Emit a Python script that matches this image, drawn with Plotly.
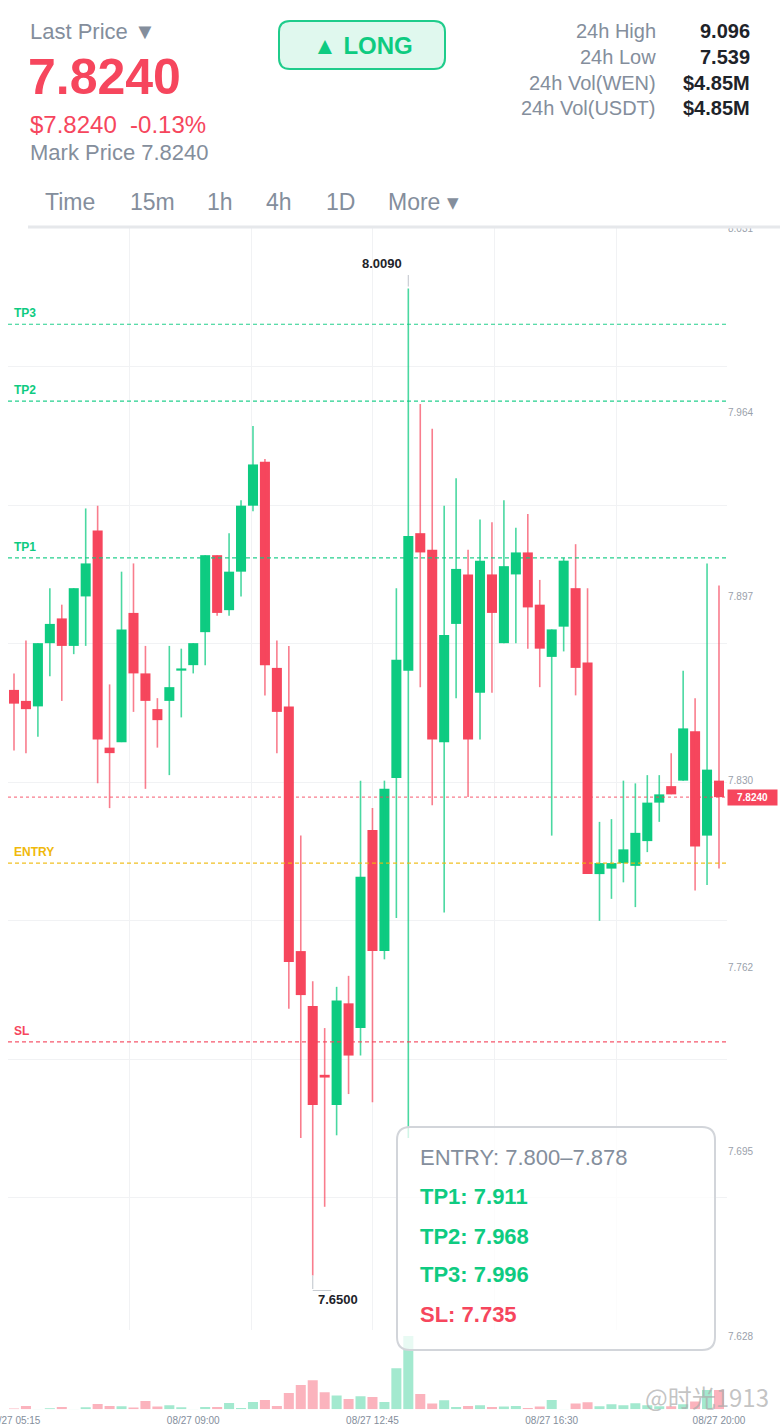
import plotly.graph_objects as go

W, H = 780, 1428

# ---------------- data ----------------
open_ = [7.863, 7.859, 7.857, 7.880, 7.889, 7.879, 7.897, 7.921, 7.842, 7.844,
         7.891, 7.869, 7.856, 7.859, 7.870, 7.872, 7.884, 7.912, 7.892, 7.906,
         7.930, 7.946, 7.871, 7.857, 7.768, 7.748, 7.723, 7.712, 7.749, 7.740,
         7.812, 7.768, 7.831, 7.870, 7.920, 7.914, 7.844, 7.887, 7.905, 7.862,
         7.905, 7.880, 7.905, 7.913, 7.894, 7.875, 7.886, 7.900, 7.873, 7.796,
         7.798, 7.800, 7.799, 7.808, 7.822, 7.828, 7.830, 7.848, 7.810, 7.830]
high = [7.869, 7.881, 7.880, 7.900, 7.894, 7.900, 7.929, 7.930, 7.865, 7.906,
        7.909, 7.879, 7.860, 7.879, 7.878, 7.880, 7.912, 7.912, 7.920, 7.932,
        7.959, 7.947, 7.881, 7.879, 7.810, 7.757, 7.740, 7.755, 7.759, 7.830,
        7.820, 7.830, 7.900, 8.009, 7.967, 7.958, 7.930, 7.940, 7.914, 7.925,
        7.924, 7.932, 7.922, 7.927, 7.903, 7.885, 7.911, 7.916, 7.900, 7.815,
        7.816, 7.830, 7.829, 7.832, 7.832, 7.840, 7.870, 7.860, 7.909, 7.901]
low = [7.841, 7.840, 7.846, 7.868, 7.859, 7.876, 7.879, 7.829, 7.820, 7.844,
       7.855, 7.827, 7.842, 7.832, 7.853, 7.869, 7.872, 7.890, 7.890, 7.897,
       7.928, 7.861, 7.840, 7.747, 7.700, 7.650, 7.675, 7.701, 7.716, 7.730,
       7.713, 7.765, 7.780, 7.700, 7.864, 7.821, 7.782, 7.860, 7.824, 7.845,
       7.862, 7.880, 7.880, 7.878, 7.864, 7.810, 7.877, 7.861, 7.796, 7.779,
       7.787, 7.793, 7.784, 7.804, 7.815, 7.825, 7.830, 7.790, 7.792, 7.798]
close = [7.858, 7.856, 7.880, 7.887, 7.879, 7.900, 7.909, 7.845, 7.840, 7.885,
         7.869, 7.859, 7.852, 7.864, 7.870, 7.880, 7.912, 7.891, 7.906, 7.930,
         7.945, 7.872, 7.855, 7.764, 7.752, 7.712, 7.722, 7.750, 7.730, 7.795,
         7.768, 7.827, 7.874, 7.919, 7.913, 7.845, 7.883, 7.907, 7.845, 7.910,
         7.891, 7.908, 7.913, 7.893, 7.878, 7.885, 7.910, 7.871, 7.796, 7.800,
         7.800, 7.805, 7.811, 7.822, 7.825, 7.825, 7.849, 7.806, 7.834, 7.824]
volume = [7, 33, 3, 10, 23, 3, 20, 53, 33, 30,
          17, 83, 27, 40, 20, 3, 23, 23, 63, 13,
          73, 93, 33, 163, 243, 290, 170, 137, 103, 130,
          123, 73, 410, 733, 153, 57, 90, 23, 33, 40,
          23, 27, 33, 13, 27, 93, 3, 57, 70, 30,
          50, 40, 60, 40, 30, 30, 50, 77, 193, 193]

time_tick_idx = [0, 15, 30, 45, 59]
time_tick_text = ["08/27 05:15", "08/27 09:00", "08/27 12:45", "08/27 16:30", "08/27 20:00"]
price_ticks = [8.031, 7.964, 7.897, 7.830, 7.762, 7.695, 7.628]

level_names = ["TP3", "TP2", "TP1", "ENTRY", "SL"]
level_values = [7.996, 7.968, 7.911, 7.800, 7.735]
entry_range = [7.800, 7.878]
last_price = 7.824
change_pct = -0.13
stat_labels = ["24h High", "24h Low", "24h Vol(WEN)", "24h Vol(USDT)"]
stat_values = ["9.096", "7.539", "$4.85M", "$4.85M"]
tabs = ["Time", "15m", "1h", "4h", "1D", "More ▾"]

# ---------------- style ----------------
GREEN = "#0ecb81"
RED = "#f6465d"
YELLOW = "#f0b90b"
GRAY = "#848e9c"
DARK = "#1e2329"
FONT = "Liberation Sans, Arial, sans-serif"
level_colors = [GREEN, GREEN, GREEN, YELLOW, RED]


def fx(p):
    return p / W


def fy(p):
    return 1 - p / H


def rrect(x0, y0, x1, y1, r):
    X0, X1, YT, YB = fx(x0), fx(x1), fy(y0), fy(y1)
    rx, ry = r / W, r / H
    return (f"M {X0+rx},{YT} L {X1-rx},{YT} Q {X1},{YT} {X1},{YT-ry} "
            f"L {X1},{YB+ry} Q {X1},{YB} {X1-rx},{YB} L {X0+rx},{YB} "
            f"Q {X0},{YB} {X0},{YB+ry} L {X0},{YT-ry} Q {X0},{YT} {X0+rx},{YT} Z")


idx = list(range(len(open_)))
up = [c >= o for o, c in zip(open_, close)]

fig = go.Figure()

# wicks
for flag, col in [(True, "rgba(14,203,129,0.75)"), (False, "rgba(246,70,93,0.7)")]:
    xs, ys = [], []
    for i in idx:
        if up[i] == flag:
            xs += [i, i, None]
            ys += [low[i], high[i], None]
    fig.add_trace(go.Scatter(x=xs, y=ys, mode="lines", line=dict(color=col, width=1.6),
                             hoverinfo="skip", showlegend=False, xaxis="x", yaxis="y"))

# bodies
fig.add_trace(go.Bar(
    x=idx,
    y=[max(abs(c - o), 0.0008) for o, c in zip(open_, close)],
    base=[min(o, c) for o, c in zip(open_, close)],
    width=0.84,
    marker=dict(color=[GREEN if u else RED for u in up], line=dict(width=0)),
    hoverinfo="skip", showlegend=False, xaxis="x", yaxis="y"))

# volume
fig.add_trace(go.Bar(
    x=idx, y=volume, width=0.84,
    marker=dict(color=["#a3e9cf" if u else "#fbb3bd" for u in up], line=dict(width=0)),
    hoverinfo="skip", showlegend=False, xaxis="x2", yaxis="y2"))

x_dom = [fx(8), fx(727)]
x_rng = [-0.502, 59.67]

shapes = []
for name, val, col in zip(level_names, level_values, level_colors):
    shapes.append(dict(type="line", xref="x domain", x0=0, x1=1, yref="y", y0=val, y1=val,
                       line=dict(color=col, width=1.2, dash="4px,3px"), opacity=0.9, layer="above"))
shapes.append(dict(type="line", xref="x domain", x0=0, x1=1, yref="y", y0=last_price, y1=last_price,
                   line=dict(color=RED, width=1.2, dash="3px,3px"), opacity=0.7, layer="above"))
# header cover + separator
shapes.append(dict(type="rect", xref="paper", yref="paper", x0=0, x1=1, y0=fy(226), y1=1,
                   fillcolor="white", line=dict(width=0), layer="above"))
shapes.append(dict(type="line", xref="paper", yref="paper", x0=fx(28), x1=1, y0=fy(227), y1=fy(227),
                   line=dict(color="#e6e8eb", width=3), layer="above"))
# LONG button
shapes.append(dict(type="path", xref="paper", yref="paper", path=rrect(279, 21, 445, 69, 11),
                   fillcolor="#e0f8ee", line=dict(color="#1fcc8b", width=2), layer="above"))
# tooltip box
shapes.append(dict(type="path", xref="paper", yref="paper", path=rrect(397, 1127, 715, 1350, 13),
                   fillcolor="rgba(255,255,255,0.75)", line=dict(color="#d2d5da", width=2), layer="above"))

ann = []


def text(x, y, s, size, color, xanchor="left", bold=False, family=FONT):
    ann.append(dict(xref="paper", yref="paper", x=fx(x), y=fy(y), text=(f"<b>{s}</b>" if bold else s),
                    showarrow=False, xanchor=xanchor, yanchor="middle",
                    font=dict(size=size, color=color, family=family)))


# header
text(28, 31, "Last Price ▼", 22, GRAY)
text(26, 77, f"{last_price:.4f}", 50, RED, bold=True)
text(28, 124, f"${last_price:.4f}&nbsp;&nbsp;{change_pct:.2f}%", 24, RED)
text(28, 153, f"Mark Price {last_price:.4f}", 22, GRAY)
text(363, 45, "▲ LONG", 24, GREEN, xanchor="center", bold=True)
for k, (lab, val) in enumerate(zip(stat_labels, stat_values)):
    yy = [31, 57, 83, 108][k]
    text(658, yy, lab, 20, GRAY, xanchor="right")
    text(752, yy, val, 20, DARK, xanchor="right", bold=True)
for t, cx in zip(tabs, [70, 152, 220, 279, 340, 424]):
    text(cx, 202, t, 23, GRAY, xanchor="center")

# level labels
for name, val, col in zip(level_names, level_values, level_colors):
    ann.append(dict(xref="paper", yref="y", x=fx(12), y=val, text=f"<b>{name}</b>", showarrow=False,
                    xanchor="left", yanchor="bottom", yshift=2,
                    font=dict(size=12, color=col, family=FONT)))

# high / low markers
hi_i = high.index(max(high))
lo_i = low.index(min(low))
ann.append(dict(x=hi_i, y=high[hi_i], xref="x", yref="y", text="", showarrow=True, arrowhead=0,
                ax=0, ay=-13, yshift=2, arrowcolor="#c9cdd3", arrowwidth=1.2))
ann.append(dict(x=hi_i, y=high[hi_i], xref="x", yref="y", text=f"<b>{high[hi_i]:.4f}</b>", showarrow=False,
                xanchor="right", yanchor="bottom", xshift=-4, yshift=15,
                font=dict(size=13, color=DARK, family=FONT)))
ann.append(dict(x=lo_i, y=low[lo_i], xref="x", yref="y", text="", showarrow=True, arrowhead=0,
                ax=0, ay=15, arrowcolor="#c9cdd3", arrowwidth=1.2))
ann.append(dict(x=lo_i, y=low[lo_i], xref="x", yref="y", text="", showarrow=True, arrowhead=0,
                ax=20, ay=0, yshift=-15, arrowcolor="#c9cdd3", arrowwidth=1.2))
ann.append(dict(x=lo_i, y=low[lo_i], xref="x", yref="y", text=f"<b>{low[lo_i]:.4f}</b>", showarrow=False,
                xanchor="left", yanchor="top", xshift=3, yshift=-14,
                font=dict(size=13, color=DARK, family=FONT)))

# price tag
ann.append(dict(xref="paper", yref="y", x=fx(727), y=last_price, text=f"<b>{last_price:.4f}</b>",
                showarrow=False, xanchor="left", yanchor="middle", bgcolor=RED, width=49, height=15,
                borderpad=0, font=dict(size=10, color="white", family=FONT)))

# tooltip
text(418, 1157, f"ENTRY: {entry_range[0]:.3f}–{entry_range[1]:.3f}", 22, GRAY)
for k, (name, val, col) in enumerate([("TP1", level_values[2], GREEN), ("TP2", level_values[1], GREEN),
                                      ("TP3", level_values[0], GREEN), ("SL", level_values[4], RED)]):
    text(418, [1196, 1236, 1274, 1314][k], f"{name}: {val:.3f}", 22, col, bold=True)

# watermark
text(707, 1396, "@时光1913", 24, "rgba(170,170,170,0.7)", xanchor="center", family="Noto Sans CJK SC")

fig.update_layout(
    width=W, height=H, margin=dict(l=0, r=0, t=0, b=0), autosize=False,
    paper_bgcolor="white", plot_bgcolor="white", showlegend=False, barmode="overlay",
    font=dict(family=FONT),
    xaxis=dict(domain=x_dom, range=x_rng, anchor="y", showticklabels=False,
               tickvals=[-0.5, 9.67, 19.85, 30.02, 40.19, 50.44], showgrid=True, gridcolor="#f1f2f4",
               zeroline=False, showline=False, ticks="", fixedrange=True, automargin=False),
    yaxis=dict(domain=[fy(1336), fy(228)], range=[7.628, 8.031], anchor="x", side="right",
               tickvals=price_ticks, ticktext=[f"{v:.3f}" for v in price_ticks],
               tickfont=dict(size=10, color="#9aa1ab"), showgrid=False, zeroline=False, ticks="",
               minor=dict(tick0=7.628, dtick=0.050375, showgrid=True, gridcolor="#f1f2f4", ticks=""),
               fixedrange=True, automargin=False, ticklabeloverflow="allow"),
    xaxis2=dict(domain=x_dom, range=x_rng, anchor="y2", tickvals=time_tick_idx, ticktext=time_tick_text,
                tickfont=dict(size=10, color=GRAY), showgrid=False, zeroline=False, ticks="",
                showline=False, fixedrange=True, automargin=False, ticklabeloverflow="allow",
                ticklabelstandoff=4),
    yaxis2=dict(domain=[fy(1409.3), fy(1330)], range=[0, 793], visible=False, fixedrange=True,
                automargin=False),
    shapes=shapes, annotations=ann,
)

post = """
document.documentElement.style.margin='0';
document.body.style.margin='0';
document.documentElement.style.overflow='hidden';
var gd = document.getElementById('{plot_id}');
var vw = window.innerWidth, vh = window.innerHeight;
if (vw > 0 && vh > 0 && (vw !== 780 || vh !== 1428)) {
  gd.style.width = vw + 'px';
  gd.style.height = vh + 'px';
  Plotly.relayout(gd, {width: vw, height: vh});
}
"""

fig.write_html(
    "out.html",
    config={"responsive": False, "displayModeBar": False, "staticPlot": True},
    post_script=post,
)
